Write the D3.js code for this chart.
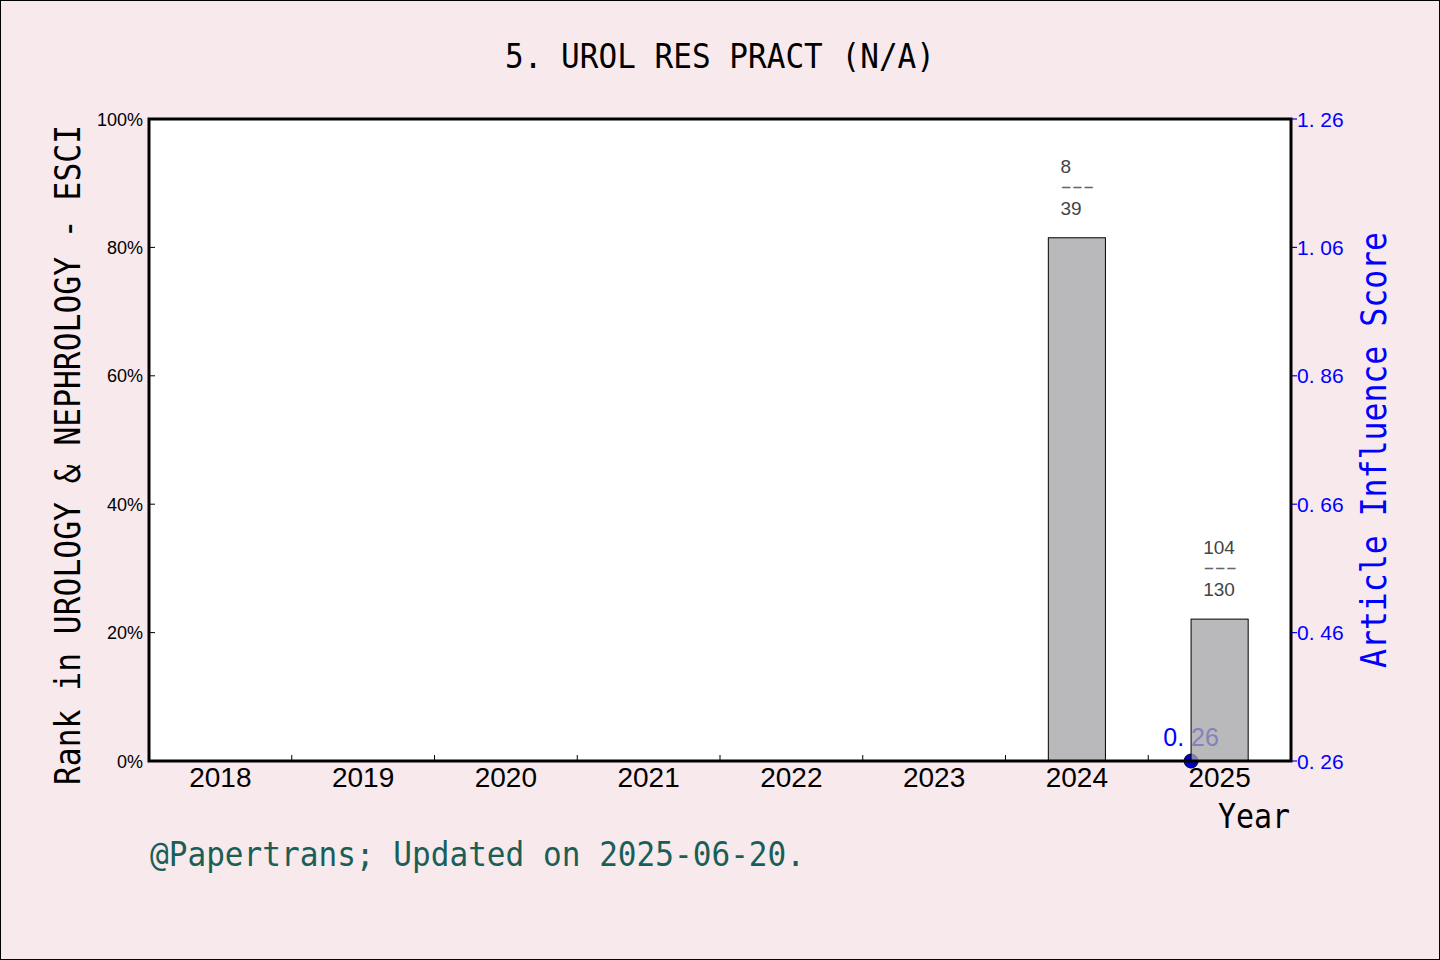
<!DOCTYPE html>
<html>
<head>
<meta charset="utf-8">
<script src="https://cdn.jsdelivr.net/npm/d3@7"></script>
<style>
  html, body { margin: 0; padding: 0; background: #f8e9ec; }
  svg { display: block; }
</style>
</head>
<body>
<svg id="chart" width="1440" height="960"></svg>
<script>
// ---------- data ----------
const years = ["2018", "2019", "2020", "2021", "2022", "2023", "2024", "2025"];
const rankPercent = [null, null, null, null, null, null, 81.5, 22.1];
const rankLabels = [null, null, null, null, null, null, ["8", "---", "39"], ["104", "---", "130"]];
const aisValues = [null, null, null, null, null, null, null, 0.26];
const leftTicks = [0, 20, 40, 60, 80, 100];
const rightTicks = [0.26, 0.46, 0.66, 0.86, 1.06, 1.26];
const titleText = "5. UROL RES PRACT (N/A)";
const leftAxisTitle = "Rank in UROLOGY & NEPHROLOGY - ESCI";
const rightAxisTitle = "Article Influence Score";
const xAxisTitle = "Year";
const footerText = "@Papertrans; Updated on 2025-06-20.";

// ---------- layout ----------
const svg = d3.select("#chart");
const W = 1440, H = 960;
const m = { left: 149, right: 1291, top: 119, bottom: 761 };
const mono = "'DejaVu Sans Mono', monospace";
const sans = "'Liberation Sans', Arial, sans-serif";

svg.append("rect").attr("x", 0.5).attr("y", 0.5).attr("width", W - 1).attr("height", H - 1)
  .attr("fill", "#f8e9ec").attr("stroke", "#000").attr("stroke-width", 1);

svg.append("rect").attr("x", m.left).attr("y", m.top)
  .attr("width", m.right - m.left).attr("height", m.bottom - m.top).attr("fill", "#fff");

const x = d3.scaleBand().domain(years).range([m.left, m.right]).paddingInner(0).paddingOuter(0);
const y = d3.scaleLinear().domain([0, 100]).range([m.bottom, m.top]);
const y2 = d3.scaleLinear().domain([0.26, 1.26]).range([m.bottom, m.top]);
const barW = x.bandwidth() * 0.4;

// ---------- AIS point + label (drawn below bars) ----------
const aisData = years.map((yr, i) => ({ yr, v: aisValues[i] })).filter(d => d.v != null);
const ptX = d => x(d.yr) + x.bandwidth() / 2 - barW / 2;
svg.append("g").selectAll("circle").data(aisData).join("circle")
  .attr("cx", ptX).attr("cy", d => y2(d.v)).attr("r", 7)
  .attr("fill", "#0000cc").attr("stroke", "#000022").attr("stroke-width", 1);
svg.append("g").selectAll("text").data(aisData).join("text")
  .attr("x", ptX).attr("y", d => y2(d.v) - 15)
  .attr("text-anchor", "middle").attr("font-family", sans).attr("font-size", 25)
  .attr("fill", "#0000ff").text(d => d.v.toFixed(2).replace(".", ". "));

// ---------- bars ----------
const barData = years.map((yr, i) => ({ yr, v: rankPercent[i], lab: rankLabels[i] })).filter(d => d.v != null);
svg.append("g").selectAll("rect").data(barData).join("rect")
  .attr("x", d => x(d.yr) + x.bandwidth() / 2 - barW / 2)
  .attr("y", d => y(d.v))
  .attr("width", barW).attr("height", d => y(0) - y(d.v))
  .attr("fill", "rgb(165,165,168)").attr("fill-opacity", 0.78)
  .attr("stroke", "#000").attr("stroke-width", 1);

// bar labels: block centred on bar, lines left aligned
const labG = svg.append("g");
barData.forEach(d => {
  const cx = x(d.yr) + x.bandwidth() / 2;
  const top = y(d.v);
  const g = labG.append("g");
  const texts = d.lab.map((s, k) => {
    const isDash = /^-+$/.test(s);
    const t = g.append("text")
      .attr("y", top - 65 + k * 21)
      .attr("font-family", sans).attr("font-size", 19).attr("fill", isDash ? "#666" : "#444");
    if (isDash) t.attr("textLength", 34).attr("lengthAdjust", "spacingAndGlyphs").attr("y", top - 65 + k * 21 - 1);
    t.text(s);
    return t;
  });
  const wMax = d3.max(texts, t => t.attr("textLength") ? 33 : t.node().getComputedTextLength());
  texts.forEach(t => t.attr("x", cx - wMax / 2));
});

// ---------- axes ----------
// left axis ticks (inward)
const lt = svg.append("g");
leftTicks.forEach(t => {
  lt.append("line").attr("x1", m.left).attr("x2", m.left + 6).attr("y1", y(t)).attr("y2", y(t))
    .attr("stroke", "#000").attr("stroke-width", 1);
  lt.append("text").attr("x", m.left - 6).attr("y", y(t) + 6.5).attr("text-anchor", "end")
    .attr("font-family", sans).attr("font-size", 18).attr("fill", "#000").text(t + "%");
});
// x axis: minor ticks at band boundaries (inward), labels at centres
const xt = svg.append("g");
years.slice(1).forEach(yr => {
  xt.append("line").attr("x1", x(yr)).attr("x2", x(yr)).attr("y1", m.bottom).attr("y2", m.bottom - 6)
    .attr("stroke", "#000").attr("stroke-width", 1);
});
years.forEach(yr => {
  xt.append("text").attr("x", x(yr) + x.bandwidth() / 2).attr("y", 787).attr("text-anchor", "middle")
    .attr("font-family", sans).attr("font-size", 28).attr("fill", "#000").text(yr);
});
// right axis ticks (outward, blue)
const rt = svg.append("g");
rightTicks.forEach(t => {
  rt.append("line").attr("x1", m.right).attr("x2", m.right + 6).attr("y1", y2(t)).attr("y2", y2(t))
    .attr("stroke", "#0000ff").attr("stroke-width", 1.2);
  rt.append("text").attr("x", m.right + 6).attr("y", y2(t) + 7.5)
    .attr("font-family", sans).attr("font-size", 21).attr("fill", "#0000ff")
    .text(t.toFixed(2).replace(".", ". "));
});

// frame
svg.append("rect").attr("x", m.left).attr("y", m.top)
  .attr("width", m.right - m.left).attr("height", m.bottom - m.top)
  .attr("fill", "none").attr("stroke", "#000").attr("stroke-width", 3);

// ---------- texts ----------
svg.append("text").attr("x", 720).attr("y", 68).attr("text-anchor", "middle")
  .attr("font-family", mono).attr("font-size", 34).attr("fill", "#000")
  .attr("textLength", 430).attr("lengthAdjust", "spacingAndGlyphs").text(titleText);

svg.append("text").attr("transform", "translate(80,455) rotate(-90)").attr("text-anchor", "middle")
  .attr("font-family", mono).attr("font-size", 36).attr("fill", "#000")
  .attr("textLength", 660).attr("lengthAdjust", "spacingAndGlyphs").text(leftAxisTitle);

svg.append("text").attr("transform", "translate(1386,450) rotate(-90)").attr("text-anchor", "middle")
  .attr("font-family", mono).attr("font-size", 36).attr("fill", "#0000ff")
  .attr("textLength", 436).attr("lengthAdjust", "spacingAndGlyphs").text(rightAxisTitle);

svg.append("text").attr("x", 1290).attr("y", 828).attr("text-anchor", "end")
  .attr("font-family", mono).attr("font-size", 34).attr("fill", "#000")
  .attr("textLength", 72).attr("lengthAdjust", "spacingAndGlyphs").text(xAxisTitle);

svg.append("text").attr("x", 150).attr("y", 866)
  .attr("font-family", mono).attr("font-size", 33).attr("fill", "#1a5f57")
  .attr("textLength", 655).attr("lengthAdjust", "spacingAndGlyphs").text(footerText);
</script>
</body>
</html>
